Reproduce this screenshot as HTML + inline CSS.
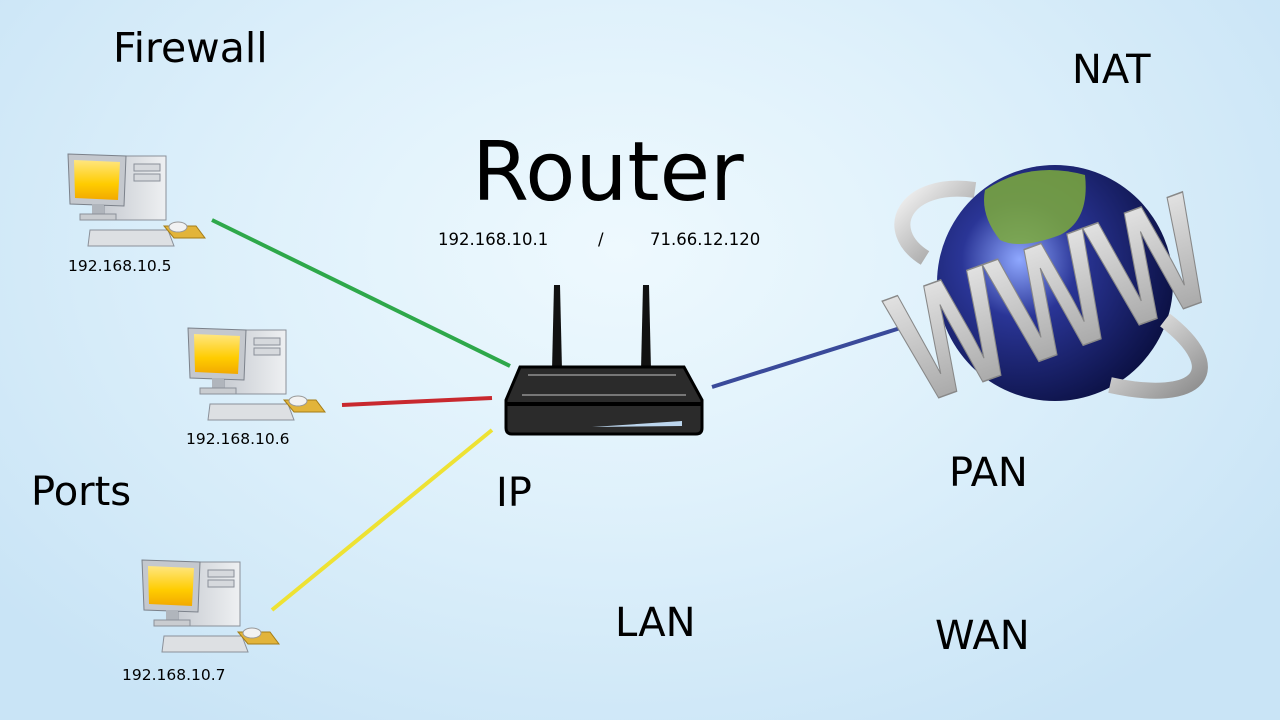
<!DOCTYPE html>
<html><head><meta charset="utf-8"><style>
html,body{margin:0;padding:0}
body{width:1280px;height:720px;overflow:hidden;position:relative;font-family:"DejaVu Sans",sans-serif;
background:radial-gradient(ellipse 800px 560px at 620px 250px,#eef9fe 0%,#dff1fb 45%,#c9e4f6 100%);}
.t{position:absolute;color:#000;white-space:nowrap;line-height:1}
</style></head><body>
<svg width="1280" height="720" style="position:absolute;left:0;top:0">
<defs>
<linearGradient id="scr" x1="0" y1="0" x2="0" y2="1"><stop offset="0" stop-color="#ffe680"/><stop offset="0.6" stop-color="#ffcc00"/><stop offset="1" stop-color="#f2a900"/></linearGradient>
<linearGradient id="tow" x1="0" y1="0" x2="1" y2="0"><stop offset="0" stop-color="#c8ccd2"/><stop offset="1" stop-color="#eef0f2"/></linearGradient>
<g id="pc">
<rect x="36" y="2" width="62" height="64" fill="url(#tow)" stroke="#8a9099"/>
<rect x="66" y="10" width="26" height="7" fill="#d6d9dd" stroke="#8a9099"/>
<rect x="66" y="20" width="26" height="7" fill="#d6d9dd" stroke="#8a9099"/>
<polygon points="0,0 58,2 56,52 2,50" fill="#c4c8ce" stroke="#7b818a"/>
<polygon points="6,6 52,8 50,46 7,44" fill="url(#scr)"/>
<rect x="24" y="50" width="12" height="10" fill="#b0b5bc"/>
<rect x="12" y="60" width="36" height="6" fill="#c9ccd0" stroke="#8a9099"/>
<polygon points="22,76 100,76 106,92 20,92" fill="#dde0e3" stroke="#8a9099"/>
<polygon points="96,72 128,72 137,84 106,84" fill="#e2b43a" stroke="#a47d18"/>
<ellipse cx="110" cy="73" rx="9" ry="5" fill="#f2f2f2" stroke="#999"/>
</g>
</defs>
<use href="#pc" x="68" y="154"/>
<use href="#pc" x="188" y="328"/>
<use href="#pc" x="142" y="560"/>
<line x1="212" y1="220" x2="510" y2="366" stroke="#2ea84a" stroke-width="4"/>
<line x1="342" y1="405" x2="492" y2="398" stroke="#c8282e" stroke-width="4"/>
<line x1="272" y1="610" x2="492" y2="430" stroke="#eee233" stroke-width="4"/>
<line x1="712" y1="387" x2="910" y2="325" stroke="#3a4a9a" stroke-width="4"/>
<!-- router -->
<polygon points="554,285 560,285 562,370 552,370" fill="#111"/>
<polygon points="643,285 649,285 651,370 641,370" fill="#111"/>
<path d="M520,367 L684,367 L702,400 L702,428 Q702,434 696,434 L512,434 Q506,434 506,428 L506,400 Z" fill="#2b2b2b" stroke="#000" stroke-width="3"/>
<line x1="506" y1="404" x2="702" y2="404" stroke="#000" stroke-width="4"/>
<line x1="528" y1="375" x2="676" y2="375" stroke="#777" stroke-width="2"/>
<line x1="522" y1="395" x2="686" y2="395" stroke="#777" stroke-width="2"/>
<polygon points="592,427 682,421 682,426" fill="#bcd6ee"/>
<!-- globe -->
<defs><radialGradient id="gl" cx="0.35" cy="0.4" r="0.7"><stop offset="0" stop-color="#8fa8ff"/><stop offset="0.35" stop-color="#2a3596"/><stop offset="1" stop-color="#0a0f40"/></radialGradient>
<linearGradient id="ring" x1="0" y1="0" x2="1" y2="1"><stop offset="0" stop-color="#f4f4f4"/><stop offset="1" stop-color="#8d8d8d"/></linearGradient>
<linearGradient id="wg" x1="0" y1="0" x2="0" y2="1"><stop offset="0" stop-color="#f2f2f2"/><stop offset="1" stop-color="#9a9a9a"/></linearGradient></defs>
<path d="M975,190 C905,180 880,230 925,258" stroke="url(#ring)" stroke-width="16" fill="none"/>
<circle cx="1055" cy="283" r="118" fill="url(#gl)"/>
<path d="M985,190 Q1030,160 1085,175 Q1090,220 1060,235 Q1020,250 1000,240 Q980,215 985,190 Z" fill="#7caa3c" opacity="0.85"/>
<path d="M1165,320 C1230,370 1200,405 1110,385" stroke="url(#ring)" stroke-width="16" fill="none"/>
<text x="0" y="0" transform="translate(1070,350) rotate(-20)" text-anchor="middle" font-family="Liberation Sans" font-weight="bold" font-size="160" fill="url(#wg)" stroke="#888" stroke-width="1.5" textLength="320" lengthAdjust="spacingAndGlyphs">WWW</text>
</svg>
<div class="t" style="left:113px;top:28px;font-size:41px">Firewall</div>
<div class="t" style="left:1072px;top:50px;font-size:40px">NAT</div>
<div class="t" style="left:472px;top:132px;font-size:82px">Router</div>
<div class="t" style="left:438px;top:232px;font-size:16.5px">192.168.10.1</div>
<div class="t" style="left:598px;top:232px;font-size:16.5px">/</div>
<div class="t" style="left:650px;top:232px;font-size:16.5px">71.66.12.120</div>
<div class="t" style="left:68px;top:259px;font-size:15.5px">192.168.10.5</div>
<div class="t" style="left:186px;top:432px;font-size:15.5px">192.168.10.6</div>
<div class="t" style="left:122px;top:668px;font-size:15.5px">192.168.10.7</div>
<div class="t" style="left:31px;top:472px;font-size:40px">Ports</div>
<div class="t" style="left:496px;top:473px;font-size:40px">IP</div>
<div class="t" style="left:949px;top:453px;font-size:40px">PAN</div>
<div class="t" style="left:615px;top:603px;font-size:40px">LAN</div>
<div class="t" style="left:935px;top:616px;font-size:40px">WAN</div>
</body></html>
